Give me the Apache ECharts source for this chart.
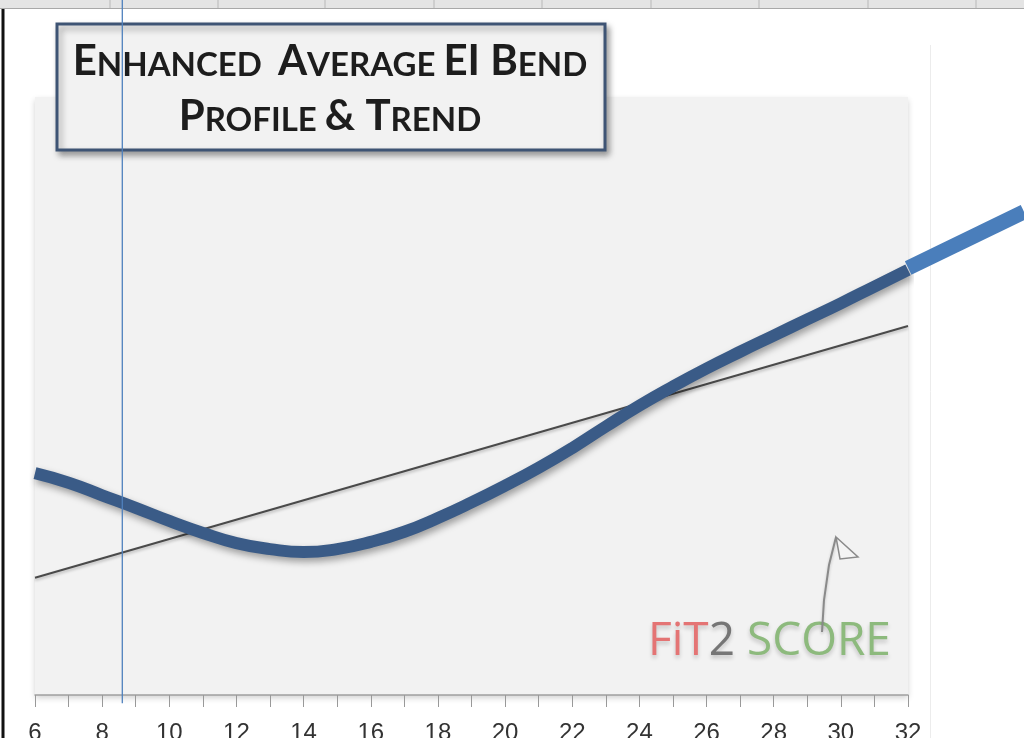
<!DOCTYPE html>
<html>
<head>
<meta charset="utf-8">
<script src="https://cdn.jsdelivr.net/npm/echarts@6/dist/echarts.min.js"></script>
<style>
html,body{margin:0;padding:0;background:#fff;}
#c{width:1024px;height:738px;}
</style>
</head>
<body>
<div id="c"></div>
<script>
// ---- data ----
const shaftPositions = [6,7,8,9,10,11,12,13,14,15,16,17,18,19,20,21,22,23,24,25,26,27,28,29,30,31,32];
const profileEI = [37.1,35.5,33.4,31.3,29.1,27.1,25.4,24.4,23.9,24.4,25.6,27.3,29.6,32.2,35.0,38.0,41.3,44.9,48.4,51.6,54.6,57.4,60.1,62.8,65.5,68.3,71.1];
const trendX = [6, 32];
const trendEI = [19.6, 61.7];
const extensionX = [32, 35.45];
const extensionEI = [71.4, 80.8];
const cursorX = [8.6, 8.6];
const cursorEI = [116.2, -1.4];
const xTickLabels = ['6','8','10','12','14','16','18','20','22','24','26','28','30','32'];
const titleLine1 = '{b|E}{s|NHANCED  }{b|A}{s|VERAGE }{b|EI B}{s|END}';
const titleLine2 = '{b|P}{s|ROFILE }{b|& T}{s|REND}';

const zip = (xs, ys) => xs.map((x, i) => [x, ys[i]]);

const chart = echarts.init(document.getElementById('c'), null, {renderer: 'canvas'});

const dividers = [110, 218, 325, 434, 542, 651, 759, 868, 976].map(x => ({
  type: 'line', shape: {x1: x, y1: 0, x2: x, y2: 8}, style: {stroke: '#b8b8b8', lineWidth: 1}, z: 5
}));

const richTitle = {
  b: {fontFamily: 'Lato', fontWeight: 'bold', fontSize: 42, fill: '#1d1d1d', verticalAlign: 'bottom', lineHeight: 42},
  s: {fontFamily: 'Lato', fontWeight: 'bold', fontSize: 33, fill: '#1d1d1d', verticalAlign: 'bottom', lineHeight: 36}
};

chart.setOption({
  animation: false,
  backgroundColor: '#ffffff',
  grid: [
    {
      left: 35, right: 116, top: 97, bottom: 43, outerBoundsMode: 'none', containLabel: false,
      show: true, backgroundColor: '#f2f2f2', borderWidth: 0,
      shadowColor: 'rgba(0,0,0,0.18)', shadowBlur: 6, shadowOffsetY: 3
    },
    {left: 35, right: 0, top: 97, bottom: 43, outerBoundsMode: 'none', containLabel: false, show: false}
  ],
  xAxis: [
    {
      type: 'value', min: 6, max: 32, interval: 2, gridIndex: 0,
      axisLine: {show: true, lineStyle: {color: '#a0a0a0', width: 1.5}},
      axisTick: {show: true, length: 12, lineStyle: {color: '#999'}},
      minorTick: {show: true, splitNumber: 2, length: 12, lineStyle: {color: '#999'}},
      splitLine: {show: false},
      axisLabel: {
        margin: 26, fontSize: 24, color: '#333', fontFamily: 'Liberation Sans Narrow, Arial Narrow, sans-serif',
        formatter: v => xTickLabels.indexOf(String(v)) >= 0 ? String(v) : ''
      }
    },
    {type: 'value', min: 6, max: 35.45, gridIndex: 1, show: false, splitLine: {show: false}}
  ],
  yAxis: [
    {type: 'value', min: 0, max: 100, show: false, splitLine: {show: false}, gridIndex: 0},
    {type: 'value', min: 0, max: 100, show: false, splitLine: {show: false}, gridIndex: 1}
  ],
  series: [
    {
      name: 'Trend', type: 'line', data: zip(trendX, trendEI), showSymbol: false, z: 3,
      lineStyle: {color: '#4a4a4a', width: 2, shadowColor: 'rgba(0,0,0,0.25)', shadowBlur: 3, shadowOffsetY: 2}
    },
    {
      name: 'Average EI Bend Profile', type: 'line', data: zip(shaftPositions, profileEI), smooth: 0.5,
      showSymbol: false, z: 4,
      lineStyle: {color: '#3a5b87', width: 12, cap: 'butt', shadowColor: 'rgba(0,0,0,0.35)', shadowBlur: 7, shadowOffsetY: 4, shadowOffsetX: 2}
    },
    {
      name: 'Extension', type: 'line', data: zip(extensionX, extensionEI), showSymbol: false, clip: false, z: 5,
      xAxisIndex: 1, yAxisIndex: 1,
      lineStyle: {color: '#4a7ebb', width: 15, cap: 'butt'}
    },
    {
      name: 'Cursor', type: 'line', data: zip(cursorX, cursorEI), showSymbol: false, clip: false, z: 20,
      lineStyle: {color: '#4f81bd', width: 1.3}
    }
  ],
  graphic: [
    {type: 'rect', shape: {x: 0, y: 0, width: 1024, height: 8}, style: {fill: '#e4e4e4', stroke: null}, z: 4},
    {type: 'line', shape: {x1: 0, y1: 8.5, x2: 1024, y2: 8.5}, style: {stroke: '#a8a8a8', lineWidth: 1}, z: 5},
    ...dividers,
    {type: 'line', shape: {x1: 3, y1: 9, x2: 3, y2: 738}, style: {stroke: '#111', lineWidth: 3}, z: 5},
    {type: 'line', shape: {x1: 930.5, y1: 45, x2: 930.5, y2: 738}, style: {stroke: '#ececec', lineWidth: 1}, z: 1},
    {
      type: 'rect', shape: {x: 57, y: 24, width: 548, height: 126},
      style: {fill: '#f2f2f2', stroke: '#3e5474', lineWidth: 3, shadowColor: 'rgba(0,0,0,0.35)', shadowBlur: 6, shadowOffsetX: 3, shadowOffsetY: 4},
      z: 10
    },
    {type: 'text', x: 330, y: 61, z: 11, style: {text: titleLine1, rich: richTitle, align: 'center', verticalAlign: 'middle'}},
    {type: 'text', x: 330, y: 116, z: 11, style: {text: titleLine2, rich: richTitle, align: 'center', verticalAlign: 'middle'}},
    {
      type: 'text', x: 648, y: 642, z: 6,
      style: {
        text: '{r|FiT}{g|2 }{s|SCORE}', align: 'left', verticalAlign: 'middle',
        rich: {
          r: {fontFamily: 'Open Sans', fontSize: 46, fill: '#e47474'},
          g: {fontFamily: 'Open Sans', fontSize: 46, fill: '#767676'},
          s: {fontFamily: 'Open Sans', fontSize: 46, fill: '#8dba7d'}
        },
        textShadowColor: 'rgba(0,0,0,0.2)', textShadowBlur: 4, textShadowOffsetY: 3
      }
    },
    {
      type: 'polyline', z: 7,
      shape: {points: [[822, 632], [824, 600], [829, 565], [836, 537]]},
      style: {stroke: '#8a8a8a', lineWidth: 2, fill: null, shadowColor: 'rgba(0,0,0,0.2)', shadowBlur: 3, shadowOffsetY: 2}
    },
    {
      type: 'polygon', z: 7,
      shape: {points: [[836, 537], [858, 557], [840, 559]]},
      style: {fill: '#f4f4f4', stroke: '#8a8a8a', lineWidth: 1.5}
    }
  ]
});
</script>
</body>
</html>
